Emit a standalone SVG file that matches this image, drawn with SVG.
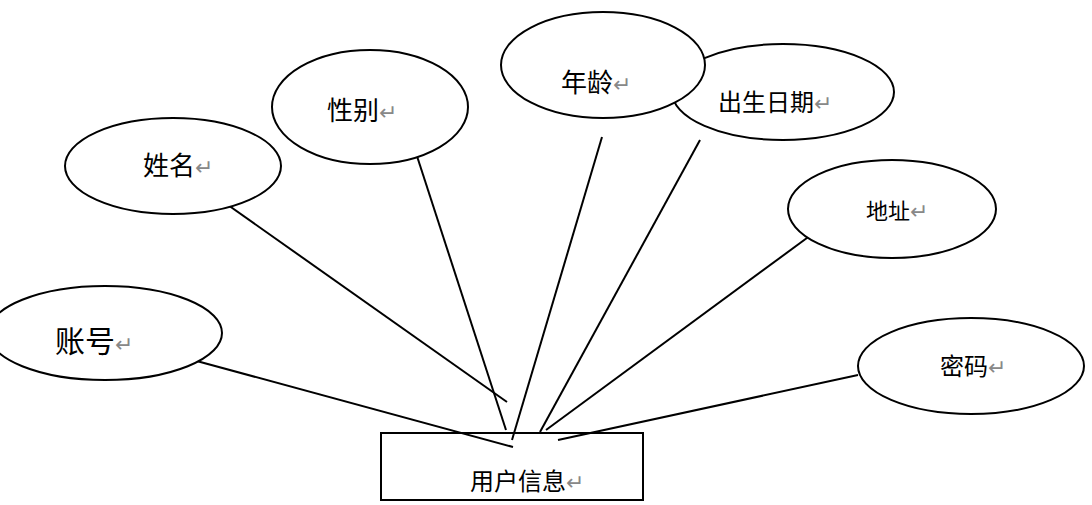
<svg xmlns="http://www.w3.org/2000/svg" width="1092" height="505" viewBox="0 0 1092 505">
<style>
.n{fill:#fff;stroke:#000;stroke-width:2}
.t{font-family:"Liberation Serif","Noto Sans CJK SC",serif;fill:#000}
.r{fill:#888}
.c line{stroke:#000;stroke-width:2}
</style>
<rect width="1092" height="505" fill="#fff"/>
<g id="yonghu"><rect class="n" x="381" y="433" width="262" height="67"/><text class="t" x="470" y="490" font-size="24">用户信息<tspan class="r" font-size="22">↵</tspan></text></g>
<g class="c">
<line x1="193" y1="360" x2="513" y2="447"/>
<line x1="211" y1="193" x2="507" y2="402"/>
<line x1="415" y1="150" x2="506" y2="430"/>
<line x1="602" y1="137" x2="512" y2="440"/>
<line x1="700" y1="140" x2="540" y2="432"/>
<line x1="811" y1="235" x2="546" y2="430"/>
<line x1="858" y1="375" x2="558" y2="440"/>
</g>
<g id="zhanghao"><ellipse class="n" cx="105" cy="333" rx="117" ry="47"/><text class="t" x="55" y="352" font-size="30">账号<tspan class="r" font-size="22">↵</tspan></text></g>
<g id="xingming"><ellipse class="n" cx="173" cy="166" rx="108" ry="48"/><text class="t" x="143" y="175" font-size="26">姓名<tspan class="r" font-size="22">↵</tspan></text></g>
<g id="xingbie"><ellipse class="n" cx="370" cy="107" rx="98" ry="57"/><text class="t" x="327" y="120" font-size="26">性别<tspan class="r" font-size="22">↵</tspan></text></g>
<g id="chusheng"><ellipse class="n" cx="783" cy="92" rx="111" ry="48"/><text class="t" x="718" y="111" font-size="24">出生日期<tspan class="r" font-size="22">↵</tspan></text></g>
<g id="nianling"><ellipse class="n" cx="603" cy="65" rx="102" ry="53"/><text class="t" x="561" y="92" font-size="26">年龄<tspan class="r" font-size="22">↵</tspan></text></g>
<g id="dizhi"><ellipse class="n" cx="892" cy="209" rx="104" ry="49"/><text class="t" x="866" y="219" font-size="22">地址<tspan class="r" font-size="22">↵</tspan></text></g>
<g id="mima"><ellipse class="n" cx="971" cy="366" rx="113" ry="48"/><text class="t" x="940" y="375" font-size="24">密码<tspan class="r" font-size="22">↵</tspan></text></g>
</svg>
